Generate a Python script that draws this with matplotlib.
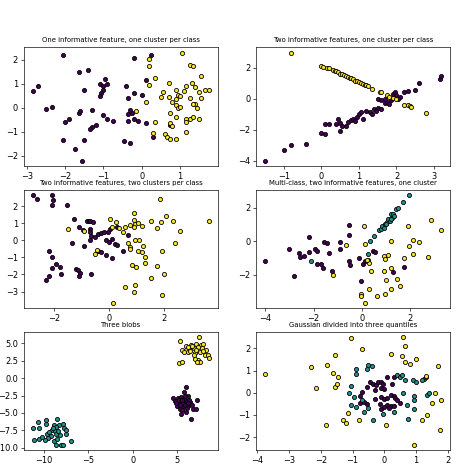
import matplotlib
matplotlib.use("Agg")
import matplotlib.pyplot as plt
import numpy as np

PURPLE, TEAL, YELLOW = "#440154", "#21918c", "#fde725"

titles = ["One informative feature, one cluster per class",
          "Two informative features, one cluster per class",
          "Two informative features, two clusters per class",
          "Multi-class, two informative features, one cluster",
          "Three blobs",
          "Gaussian divided into three quantiles"]

p1_class0 = [(-2.05,2.2),(-1.65,1.5),(-1.4,1.6),(-2.85,0.7),(-2.7,0.9),(-2.5,-0.05),(-2.35,0.05),(-1.5,0.75),(-1.1,1.0),(-0.95,1.2),(-1.0,0.9),(-0.9,1.0),(-1.0,0.75),(-1.05,0.6),(-1.1,0.5),(-0.4,0.9),(-0.35,0.4),(-0.2,0.6),(0.0,0.55),(-0.2,2.1),(0.25,2.2),(0.1,1.15),(-1.65,-0.2),(-1.6,-0.15),(-1.3,-0.1),(-2.0,-0.6),(-1.9,-0.45),(-1.3,-0.8),(-1.35,-0.9),(-1.2,-0.7),(-1.0,-0.3),(-0.9,-0.45),(-0.75,-0.55),(-0.35,-0.55),(-0.35,-0.25),(-0.3,-0.1),(-0.25,-0.2),(-0.2,-0.45),(-0.1,-0.55),(0.1,-0.65),(0.3,-1.2),(-2.05,-1.35),(-1.5,-1.35),(-1.75,-1.7),(-0.45,-1.4),(-0.3,-1.45),(-1.55,-2.2),(0.75,-0.7)]
p1_class1 = [(1.05,2.3),(1.25,1.8),(1.35,1.75),(0.2,2.05),(0.2,1.75),(0.2,0.95),(0.35,1.25),(0.7,1.05),(0.9,0.75),(1.15,0.9),(1.3,1.05),(1.4,0.85),(1.55,1.35),(1.65,0.75),(1.75,0.75),(0.55,0.65),(0.5,0.45),(0.7,0.45),(0.8,0.25),(0.9,0.35),(0.95,0.55),(1.0,0.5),(1.1,0.7),(1.25,0.4),(1.5,0.65),(1.55,0.4),(1.4,0.15),(1.45,0.0),(0.9,0.1),(0.95,0.0),(1.0,0.05),(0.1,0.25),(-0.15,-0.15),(0.75,-0.2),(0.9,-0.4),(1.15,-0.45),(1.25,-0.45),(1.35,-0.4),(1.5,-0.45),(1.15,-0.6),(0.35,-0.6),(0.75,-0.65),(0.8,-0.75),(0.3,-1.05),(1.15,-1.0),(0.6,-1.1),(0.65,-1.2),(0.75,-1.3),(0.9,-1.3),(1.35,0.15)]

p2_class0 = [(-1.5,-4),(-1.0,-3.35),(-0.8,-3.0),(-0.4,-2.95),(0,-2.2),(0.1,-2.3),(0.1,-1.65),(0.2,-1.65),(0.4,-1.65),(0.5,-1.55),(0.45,-1.3),(0.55,-1.75),(0.5,-2.1),(0.65,-1.8),(0.7,-1.5),(0.8,-1.4),(0.85,-1.35),(0.9,-1.45),(0.95,-1.2),(1.0,-1.0),(1.05,-0.9),(1.1,-1.35),(1.2,-0.8),(1.3,-0.85),(1.35,-1.0),(1.4,-0.7),(1.5,-0.6),(1.45,-0.8),(1.6,-0.7),(1.5,0.0),(1.6,-0.1),(1.7,-0.3),(1.75,-0.2),(1.8,-0.35),(1.85,-0.1),(1.9,0.3),(1.95,0.45),(2.0,0.2),(2.1,0.1),(2.2,0.4),(2.3,0.5),(2.5,0.55),(2.6,1.0),(3.15,1.25),(3.2,1.45),(2.05,0.0),(1.7,0.0)]
p2_class1 = [(-0.8,2.95),(0,2.1),(0.05,2.05),(0.15,2.0),(0.2,1.95),(0.3,1.85),(0.35,1.8),(0.4,1.75),(0.45,1.7),(0.5,1.6),(0.55,1.55),(0.6,1.5),(0.65,1.45),(0.7,1.4),(0.75,1.35),(0.8,1.3),(0.85,1.25),(0.9,1.15),(0.95,1.1),(1.0,1.05),(1.05,1.0),(1.1,0.95),(1.15,0.9),(1.2,0.85),(1.25,0.8),(1.35,0.6),(1.55,0.4),(1.6,0.4),(1.75,0.2),(1.8,0.1),(1.9,0.05),(2.0,-0.05),(2.2,-0.4),(2.3,-0.4),(2.35,-0.5),(2.4,-0.55),(2.8,-0.95)]

p3_class0 = [(-2.8,2.65),(-2.65,2.4),(-2.1,2.65),(-2.05,2.35),(-2.1,2.05),(-1.55,2.05),(-1.3,1.25),(-1.1,0.8),(-0.8,1.1),(-0.75,1.15),(-0.7,1.1),(-0.6,1.05),(-0.7,0.65),(-0.95,0.6),(-0.7,0.5),(-0.4,0.35),(-0.3,0.4),(-0.2,0.5),(-0.05,0.5),(0.05,0.65),(0.3,0.8),(-1.35,-0.15),(-0.7,0.0),(-0.65,0.25),(-0.9,-0.35),(-0.5,0.2),(-0.1,0.0),(0.0,-0.1),(0.1,0.1),(0.2,-0.2),(0.3,-0.3),(0.5,-0.6),(0.7,0.3),(-0.4,-0.6),(-0.3,-0.7),(-0.1,-0.85),(0.1,-1.05),(-2.2,-0.65),(-2.1,-0.95),(-2.1,-1.6),(-1.95,-1.4),(-1.8,-1.55),(-1.75,-1.95),(-2.2,-2.1),(-2.3,-2.35),(-1.2,-1.65),(-1.15,-1.75),(-1.05,-1.9),(-1.1,-2.1),(-0.65,-2.0)]
p3_class1 = [(1.85,2.4),(0.9,1.6),(0.9,1.2),(0.95,0.95),(1.05,1.0),(1.2,0.85),(0.9,0.8),(0.75,0.9),(0.6,0.75),(0.5,0.5),(0.35,0.7),(0.1,0.75),(0.05,1.25),(0.25,1.05),(-1.5,0.65),(-0.9,0.55),(1.55,1.15),(1.9,1.05),(2.1,1.4),(2.35,1.15),(1.75,0.7),(2.6,0.55),(3.65,1.15),(0.95,0.0),(1.1,0.0),(0.7,-0.15),(0.75,-0.4),(0.75,-0.5),(1.05,-0.65),(1.2,-0.7),(1.25,-0.35),(1.3,-0.95),(2.4,-0.15),(1.95,-0.6),(-0.5,-0.8),(-0.45,-0.55),(0.85,-1.45),(1.0,-1.55),(1.3,-1.35),(1.75,-1.5),(2.0,-1.95),(1.55,-2.2),(0.6,-2.75),(0.95,-2.6),(0.9,-3.0),(1.95,-3.2),(0.15,-3.65)]

p4_class0 = [(-4.0,-1.2),(-3.0,-0.45),(-2.8,-2.05),(-2.6,-0.7),(-2.55,-0.95),(-2.4,-0.85),(-2.2,0.25),(-2.2,-0.65),(-1.95,-0.45),(-1.85,-0.6),(-1.85,-1.35),(-1.7,-1.35),(-1.6,-1.6),(-1.55,-0.05),(-1.45,-0.1),(-1.35,-0.7),(-1.25,-1.75),(-0.9,-0.05),(-0.9,-0.45),(-0.55,0.95),(-0.55,0.4),(-0.55,-1.15),(-0.5,-1.4),(-0.1,-1.0),(0.05,-1.35),(0.15,-1.2),(0.25,-1.1),(0.45,-0.6),(0.55,-0.65),(-0.05,-2.35),(1.3,-1.8),(1.75,-1.5)]
p4_class1 = [(-2.1,-1.15),(0.25,-0.75),(0.35,0.0),(0.5,0.3),(0.7,0.65),(0.8,0.7),(0.85,0.9),(0.9,0.8),(0.95,1.0),(1.05,1.15),(1.1,1.3),(1.15,1.2),(1.2,1.6),(1.25,1.4),(1.3,1.6),(1.35,1.5),(1.4,1.9),(1.5,1.95),(1.7,2.35),(1.95,2.75),(1.0,1.05),(1.2,1.3)]
p4_class2 = [(0.1,0.9),(0.15,-0.15),(-0.65,-0.25),(-1.2,-2.0),(0.4,-1.75),(0.3,-1.3),(0.2,-1.1),(0.9,-0.85),(0.95,-1.05),(1.1,-0.8),(1.2,0.0),(1.9,0.9),(2.1,0.1),(2.35,-0.05),(1.95,-0.3),(2.1,-0.75),(1.75,-1.0),(2.75,-0.95),(2.85,1.25),(3.3,0.65),(0.9,-1.75),(1.2,-1.6),(1.0,-2.3),(1.45,-2.25),(1.2,-2.85),(1.6,-2.65),(0.3,-2.85),(0.65,-3.25),(0.95,-3.15),(-0.05,-3.15),(-0.05,-3.25),(0.15,-3.65)]

p5_class0 = [(6.0,-1.3),(5.8,-2.0),(4.6,-2.8),(5.1,-2.9),(5.5,-2.7),(6.3,-2.5),(7.3,-3.2),(4.8,-3.3),(5.3,-3.6),(5.6,-3.5),(6.0,-3.3),(6.5,-3.4),(5.0,-4.0),(5.7,-4.2),(6.2,-4.0),(6.8,-4.4),(5.4,-4.5),(6.0,-4.8),(7.1,-4.5),(5.5,-5.2),(6.6,-5.8),(5.9,-3.9),(6.4,-3.1),(5.2,-3.2),(5.8,-3.0),(6.1,-4.3),(5.6,-4.6),(5.3,-3.9),(6.7,-3.8),(4.9,-3.6),(5.9,-2.6),(6.3,-3.6),(5.6,-3.1)]
p5_class1 = [(-8.5,-5.8),(-9.8,-6.0),(-10.7,-6.3),(-9.8,-6.6),(-11.3,-7.1),(-10.6,-7.1),(-8.9,-6.7),(-8.3,-6.8),(-7.9,-6.6),(-8.6,-7.0),(-7.7,-7.2),(-7.5,-7.5),(-9.1,-7.4),(-8.8,-7.6),(-9.7,-8.1),(-9.2,-8.3),(-8.7,-8.0),(-8.2,-8.2),(-9.5,-8.6),(-11.1,-8.9),(-10.6,-8.8),(-9.9,-8.9),(-8.9,-9.0),(-6.9,-9.0),(-8.7,-9.6),(-8.1,-9.6),(-7.9,-9.6),(-8.5,-8.8),(-9.0,-7.1),(-10.2,-8.5),(-7.5,-8.0),(-9.4,-7.8),(-8.4,-7.6)]
p5_class2 = [(7.5,5.9),(5.3,5.3),(6.0,4.7),(6.6,4.8),(7.2,4.9),(7.7,4.8),(8.0,4.9),(5.6,4.1),(6.0,4.0),(6.4,4.3),(6.9,4.4),(7.4,4.5),(7.8,4.3),(8.3,4.0),(5.8,3.8),(6.3,3.7),(7.0,3.6),(7.6,3.7),(8.2,3.4),(8.5,3.3),(8.6,2.9),(6.9,3.3),(7.4,2.6),(7.0,2.8),(7.6,2.3),(7.3,2.3),(5.2,2.2),(5.6,2.3),(6.5,3.9),(7.2,4.1),(6.2,4.5),(7.9,3.9),(6.7,4.6)]

p6_class0 = [(-0.45,0.5),(-0.35,0.4),(-0.25,0.35),(-0.2,0.5),(-0.1,0.5),(-0.05,0.4),(0.1,0.7),(0.3,0.7),(-0.7,0.05),(-0.75,-0.15),(-0.55,0.25),(-0.3,0.1),(-0.1,0.2),(0.0,0.15),(0.25,0.4),(0.2,-0.1),(0.3,-0.15),(0.35,-0.25),(-0.3,-0.3),(-0.1,-0.2),(0.0,-0.3),(0.1,-0.25),(-0.75,-0.45),(-0.55,-0.5),(-0.15,-0.5),(0.1,-0.55),(0.2,-0.6),(0.5,-0.45),(-0.1,-0.75),(0.0,-0.65),(0.15,-0.7),(0.3,-0.6),(-0.65,-0.4),(0.4,-0.35)]
p6_class1 = [(-0.9,1.05),(-0.9,0.85),(-0.5,1.25),(-0.4,1.2),(-0.55,1.05),(0.4,0.8),(0.5,0.7),(0.55,0.8),(0.65,0.55),(0.9,0.55),(1.0,0.5),(1.25,0.6),(1.3,0.7),(-1.1,0.0),(-1.05,0.3),(-0.95,-0.2),(-1.05,-0.55),(-0.7,-0.35),(-0.65,-0.85),(-0.5,-0.7),(-0.9,-0.65),(-0.35,-1.25),(-0.05,-0.95),(0.3,-0.85),(0.7,-0.55),(0.95,-0.35),(0.95,-0.15),(0.95,-0.75),(0.75,-1.2),(1.35,-0.1),(1.4,0.0),(1.2,0.55),(0.6,0.0)]
p6_class2 = [(-3.75,0.85),(-2.3,1.15),(-2.15,0.2),(-1.8,1.25),(-1.85,-1.45),(-1.6,0.9),(-1.55,1.7),(-1.55,0.25),(-1.5,0.4),(-1.45,0.7),(-1.3,-1.25),(-1.2,-1.35),(-1.15,-0.9),(-1.05,2.45),(-0.7,1.95),(-0.8,-1.25),(0.05,-1.45),(0.2,1.75),(0.55,1.65),(0.6,2.5),(0.65,2.1),(0.65,1.4),(0.8,1.3),(1.0,1.5),(1.3,0.75),(1.7,1.2),(1.6,0.0),(1.8,-0.35),(1.5,-0.45),(1.35,-1.0),(1.2,-1.25),(1.75,-1.7),(0.95,-2.35)]

panels = [
    [(p1_class0, PURPLE), (p1_class1, YELLOW)],
    [(p2_class0, PURPLE), (p2_class1, YELLOW)],
    [(p3_class0, PURPLE), (p3_class1, YELLOW)],
    [(p4_class0, PURPLE), (p4_class1, TEAL), (p4_class2, YELLOW)],
    [(p5_class0, PURPLE), (p5_class1, TEAL), (p5_class2, YELLOW)],
    [(p6_class0, PURPLE), (p6_class1, TEAL), (p6_class2, YELLOW)],
]

fig = plt.figure(figsize=(8, 8), dpi=59.25)
plt.subplots_adjust(bottom=0.05, top=0.9, left=0.05, right=0.95)
for i, (title, groups) in enumerate(zip(titles, panels)):
    ax = fig.add_subplot(3, 2, i + 1)
    ax.set_title(title, fontsize="small")
    for pts, col in groups:
        a = np.array(pts)
        ax.scatter(a[:, 0], a[:, 1], marker="o", c=col, s=25, edgecolor="k")
fig.savefig("out.png", dpi=59.25)
